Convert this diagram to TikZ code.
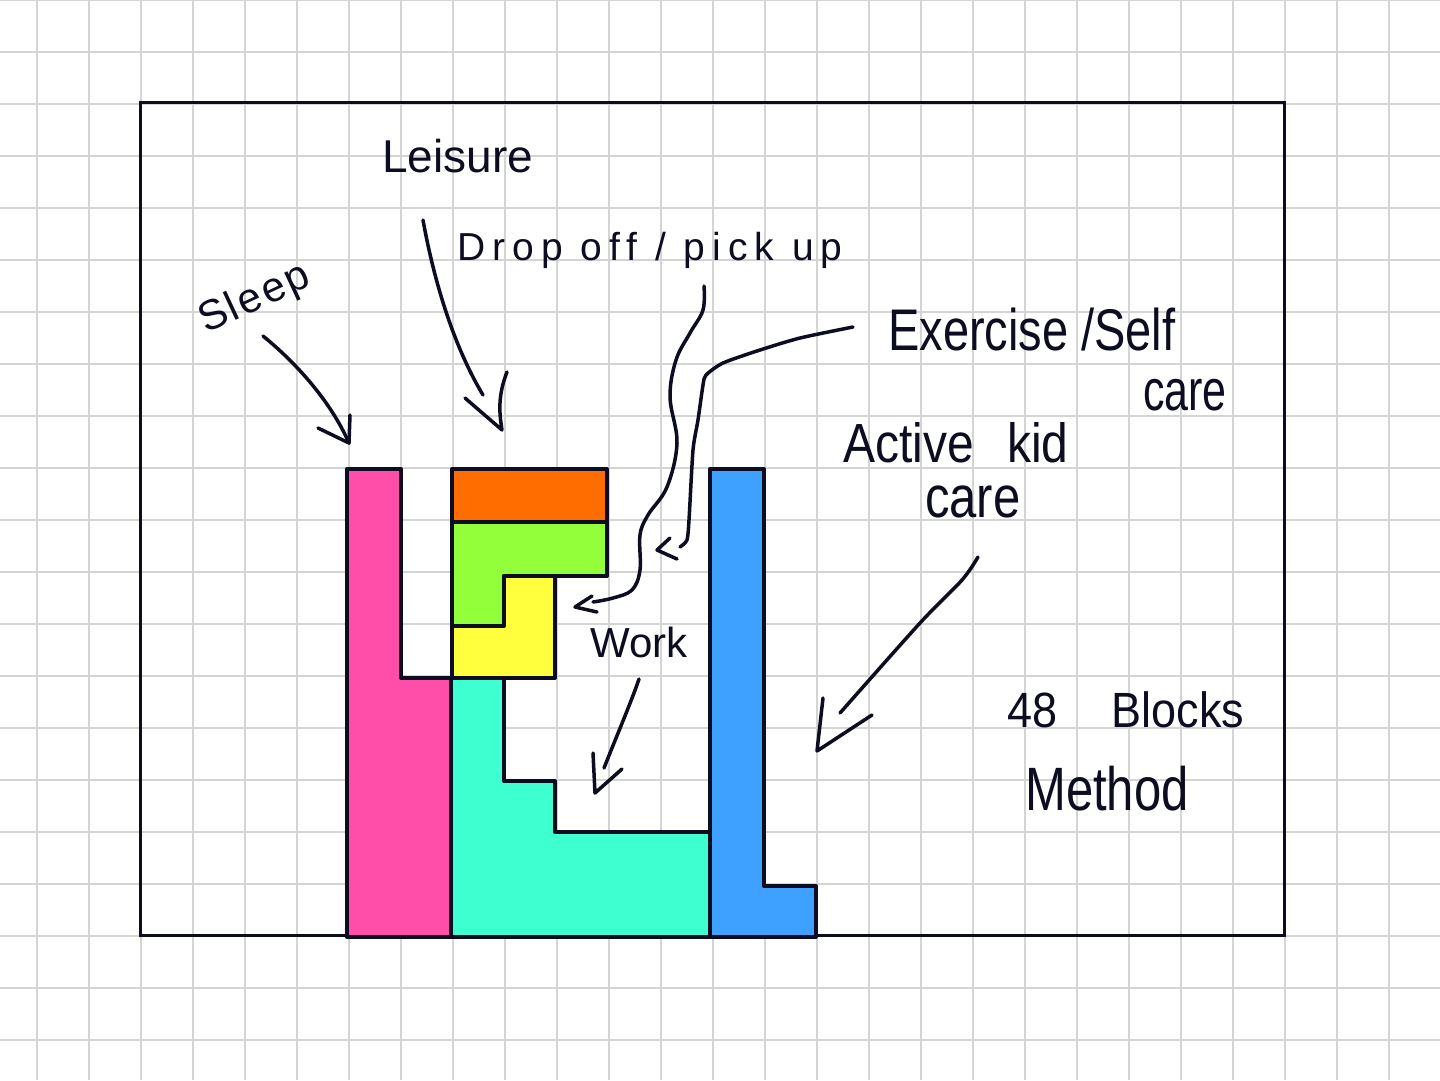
\documentclass[tikz,border=0pt]{standalone}
\usepackage{fontspec}
\setmainfont{Liberation Sans}
\usepackage{graphicx}
\definecolor{ink}{HTML}{0D0D22}
\definecolor{gridgray}{HTML}{D4D4D4}
\definecolor{cpink}{HTML}{FF4DAA}
\definecolor{corange}{HTML}{FF6D00}
\definecolor{cgreen}{HTML}{92FF3A}
\definecolor{cyellow}{HTML}{FFFF3D}
\definecolor{cteal}{HTML}{3DFFD0}
\definecolor{cblue}{HTML}{3EA0FF}
\newcommand\handtxt[3]{\fontsize{#1}{#1}\selectfont\scalebox{1}[#2]{#3}}
\begin{document}
\begin{tikzpicture}[x=1pt,y=-1pt,
  gridline/.style={draw=gridgray,line width=2pt},
  blockshape/.style={draw=ink,line width=4pt,line join=round},
  arrowline/.style={draw=ink,line width=3.5pt,line cap=round,line join=round},
  lbl/.style={text=ink,inner sep=0pt}]
\useasboundingbox[fill=white] (0,0) rectangle (1440,1080);
% grid
\foreach \k in {0,...,27}{\draw[gridline] (36.5+52*\k,0) -- (36.5+52*\k,1080);}
\foreach \k in {0,...,20}{\draw[gridline] (0,52*\k) -- (1440,52*\k);}
% frame
\draw[ink,line width=3pt] (140,102) rectangle (1284,935);
% blocks
\path[blockshape,fill=cpink] (347,469) -- (401,469) -- (401,678) -- (451,678) -- (451,937) -- (347,937) -- cycle;
\path[blockshape,fill=cteal] (451,678) -- (504,678) -- (504,781) -- (555,781) -- (555,832) -- (710,832) -- (710,937) -- (451,937) -- cycle;
\path[blockshape,fill=corange] (452,469) rectangle (607,522);
\path[blockshape,fill=cgreen] (452,522) -- (607,522) -- (607,576) -- (504,576) -- (504,626) -- (452,626) -- cycle;
\path[blockshape,fill=cyellow] (504,576) -- (555,576) -- (555,678) -- (452,678) -- (452,626) -- (504,626) -- cycle;
\path[blockshape,fill=cblue] (710,469) -- (764,469) -- (764,886) -- (816,886) -- (816,937) -- (710,937) -- cycle;
% labels
\node[lbl,anchor=base west] (leisure) at (382,172) {\handtxt{46}{1}{Leisure}};
\node[lbl,anchor=base west] (drop) at (457,260) {\fontsize{39}{39}\selectfont\addfontfeatures{LetterSpace=18}Drop off / pick up};
\node[lbl,anchor=base west,rotate=25] (sleep) at (206,334) {\fontsize{42}{42}\selectfont\addfontfeatures{LetterSpace=6}Sleep};
\node[lbl,anchor=base west] (exercise) at (888,350) {\handtxt{47}{1.25}{Exercise /Self}};
\node[lbl,anchor=base west] (selfcare) at (1143,410) {\handtxt{43}{1.35}{care}};
\node[lbl,anchor=base west] (active) at (843,462) {\handtxt{48}{1.15}{Active \hspace{20pt}kid}};
\node[lbl,anchor=base west] (kidcare) at (925,517) {\handtxt{49}{1.2}{care}};
\node[lbl,anchor=base west] (work) at (590,657) {\handtxt{42}{1}{Work}};
\node[lbl,anchor=base west] (blocks) at (1007,727) {\handtxt{45}{1.1}{48 \hspace{42pt}Blocks}};
\node[lbl,anchor=base west] (method) at (1025,810) {\handtxt{49}{1.25}{Method}};
% arrow coordinates
\coordinate (sleepS) at (263,336);
\coordinate (sleepT) at (349,443);
\coordinate (leisS) at (423,220);
\coordinate (leisE) at (483,395);
\coordinate (leisT) at (502,430);
\coordinate (dropS) at (704,286);
\coordinate (dropE) at (593,602);
\coordinate (dropT) at (575,607);
\coordinate (exS) at (853,327);
\coordinate (exE) at (680,547);
\coordinate (exT) at (657,550);
\coordinate (workS) at (639,679);
\coordinate (workE) at (604,768);
\coordinate (workT) at (595,793);
\coordinate (kidS) at (978,557);
\coordinate (kidE) at (840,713);
\coordinate (kidT) at (817,751);
% sleep arrow
\draw[arrowline] (sleepS) .. controls (295,362) and (330,400) .. (sleepT);
\draw[arrowline] (318,428) -- (sleepT) -- (350,415);
% leisure arrow
\draw[arrowline] (leisS) .. controls (432,270) and (450,340) .. (leisE);
\draw[arrowline] (465,398) -- (leisT) .. controls (499,412) and (498,395) .. (507,372);
% drop off arrow
\draw[arrowline] plot[smooth,tension=0.6] coordinates {(dropS) (703,310) (690,333) (676,360) (670,397) (677,443) (667,487) (648,515) (640,535) (640,570) (632,590) (613,598) (dropE)};
\draw[arrowline] (592,596) -- (dropT) -- (597,612);
% exercise arrow
\draw[arrowline] plot[smooth,tension=0.4] coordinates {(exS) (800,338) (760,350) (723,363) (706,375) (703,385) (698,420) (693,450) (689,520) (687,540) (exE)};
\draw[arrowline] (670,538) -- (exT) -- (677,559);
% work arrow
\draw[arrowline] (workS) .. controls (632,700) and (615,740) .. (workE);
\draw[arrowline] (593,753) -- (workT) -- (622,769);
% active kid care arrow
\draw[arrowline] plot[smooth,tension=0.5] coordinates {(kidS) (962,580) (920,623) (kidE)};
\draw[arrowline] (823,698) -- (kidT) -- (872,715);
\end{tikzpicture}
\end{document}
